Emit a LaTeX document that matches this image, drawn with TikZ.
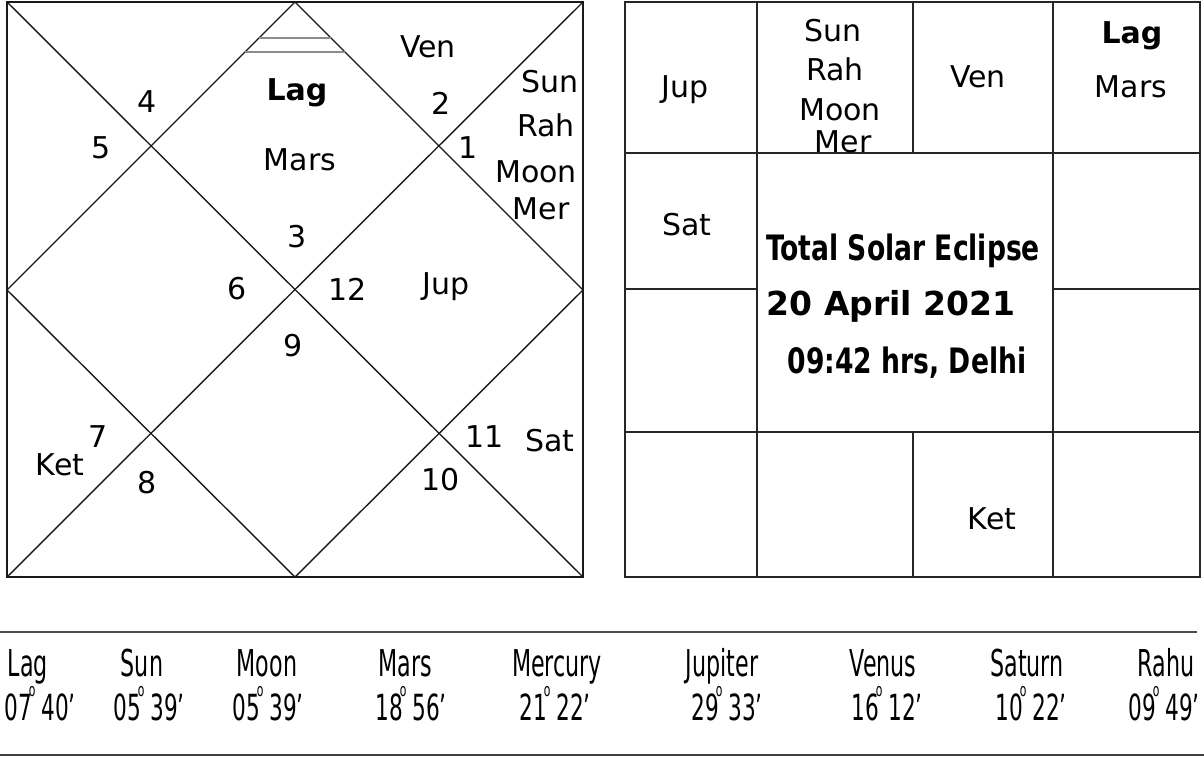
\documentclass[tikz,border=0pt]{standalone}
\usepackage{fontspec}
\setmainfont{DejaVu Sans}
\newfontfamily\condfont{DejaVu Sans}[FakeStretch=0.76]
\newfontfamily\narrowfont{DejaVu Sans}[FakeStretch=0.6]
\usetikzlibrary{positioning}
\newcommand\degmin[2]{#1\kern-0.08em\raisebox{0.64em}{\fontsize{18}{18}\selectfont o}\kern0.16em#2’}

\begin{document}
\begin{tikzpicture}[
    x=1pt, y=-1pt,
    chartline/.style={line width=1.4pt, black!90},
    gridline/.style={line width=1.6pt, black!85},
    sign/.style={font=\fontsize{30}{34}\selectfont},
    graha/.style={font=\fontsize{30}{34}\selectfont},
    lagna/.style={font=\fontsize{30}{34}\selectfont\bfseries},
    pname/.style={font=\narrowfont\fontsize{37}{40}\selectfont, anchor=base, inner sep=0pt},
    pdeg/.style={font=\narrowfont\fontsize{36}{40}\selectfont, anchor=base, inner sep=0pt}
]
\useasboundingbox (0,0) rectangle (1204,757);

% North Indian chart
\draw[chartline] (7,2) rectangle (583,577);
\draw[chartline] (7,2) -- (583,577);
\draw[chartline] (583,2) -- (7,577);
\draw[chartline] (295,2) -- (583,290) -- (295,577) -- (7,290) -- cycle;
\draw[black!45, line width=1.2pt] (259,38) -- (331,38);
\draw[black!45, line width=1.2pt] (245,52) -- (345,52);

\node[graha] (lven) at (428,47) {Ven};
\node[lagna] (llag) at (297,93) {Lag};
\node[graha] (lmars) at (300,160) {Mars};
\node[sign] (s4) at (147,102) {4};
\node[sign] (s5) at (101,148) {5};
\node[sign] (s2) at (441,103) {2};
\node[sign] (s1) at (468,148) {1};
\node[graha] (lsun) at (550,82) {Sun};
\node[graha] (lrah) at (546,125) {Rah};
\node[graha] (lmoon) at (536,172) {Moon};
\node[graha] (lmer) at (541,209) {Mer};
\node[sign] (s3) at (297,237) {3};
\node[sign] (s6) at (237,289) {6};
\node[sign] (s12) at (348,289) {12};
\node[graha] (ljup) at (446,287) {Jup};
\node[sign] (s9) at (293,346) {9};
\node[sign] (s7) at (98,437) {7};
\node[graha] (lket) at (60,465) {Ket};
\node[sign] (s8) at (147,483) {8};
\node[sign] (s11) at (485,437) {11};
\node[graha] (lsat) at (550,441) {Sat};
\node[sign] (s10) at (441,480) {10};

% South Indian chart
\draw[gridline] (625,2) rectangle (1200,577);
\draw[gridline] (625,153) -- (1200,153);
\draw[gridline] (625,432) -- (1200,432);
\draw[gridline] (625,289) -- (757,289);
\draw[gridline] (1053,289) -- (1200,289);
\draw[gridline] (757,2) -- (757,577);
\draw[gridline] (1053,2) -- (1053,577);
\draw[gridline] (913,2) -- (913,153);
\draw[gridline] (913,432) -- (913,577);

\node[graha] (rjup) at (685,90) {Jup};
\node[graha] (rsun) at (833,31) {Sun};
\node[graha] (rrah) at (835,69) {Rah};
\node[graha] (rmoon) at (840,110) {Moon};
\node[graha] (rmer) at (843,142) {Mer};
\node[graha] (rven) at (978,77) {Ven};
\node[lagna] (rlag) at (1132,36) {Lag};
\node[graha] (rmars) at (1131,87) {Mars};
\node[graha] (rsat) at (687,225) {Sat};
\node[graha] (rket) at (992,519) {Ket};

\node[font=\condfont\fontsize{35}{38}\selectfont\bfseries] (title) at (903,251) {Total Solar Eclipse};
\node[font=\fontsize{33}{38}\selectfont\bfseries] (date) at (891,306) {20 April 2021};
\node[font=\condfont\fontsize{35}{38}\selectfont\bfseries] (place) at (907,363) {09:42 hrs, Delhi};

% Longitudes table
\draw[black!70, line width=1.4pt] (0,632) -- (1197,632);
\draw[black!75, line width=2.6pt] (0,755) -- (1204,755);

\node[pname] (nlag) at (28,676) {Lag};
\node[pname] (nsun) at (142,676) {Sun};
\node[pname] (nmoon) at (267,676) {Moon};
\node[pname] (nmars) at (405,676) {Mars};
\node[pname] (nmer) at (557,676) {Mercury};
\node[pname] (njup) at (722,676) {Jupiter};
\node[pname] (nven) at (883,676) {Venus};
\node[pname] (nsat) at (1027,676) {Saturn};
\node[pname] (nrah) at (1166,676) {Rahu};

\node[pdeg] (dlag) at (40,720) {\degmin{07}{40}};
\node[pdeg] (dsun) at (149,720) {\degmin{05}{39}};
\node[pdeg] (dmoon) at (268,720) {\degmin{05}{39}};
\node[pdeg] (dmars) at (411,720) {\degmin{18}{56}};
\node[pdeg] (dmer) at (555,720) {\degmin{21}{22}};
\node[pdeg] (djup) at (727,720) {\degmin{29}{33}};
\node[pdeg] (dven) at (887,720) {\degmin{16}{12}};
\node[pdeg] (dsat) at (1031,720) {\degmin{10}{22}};
\node[pdeg] (drah) at (1164,720) {\degmin{09}{49}};
\end{tikzpicture}
\end{document}
